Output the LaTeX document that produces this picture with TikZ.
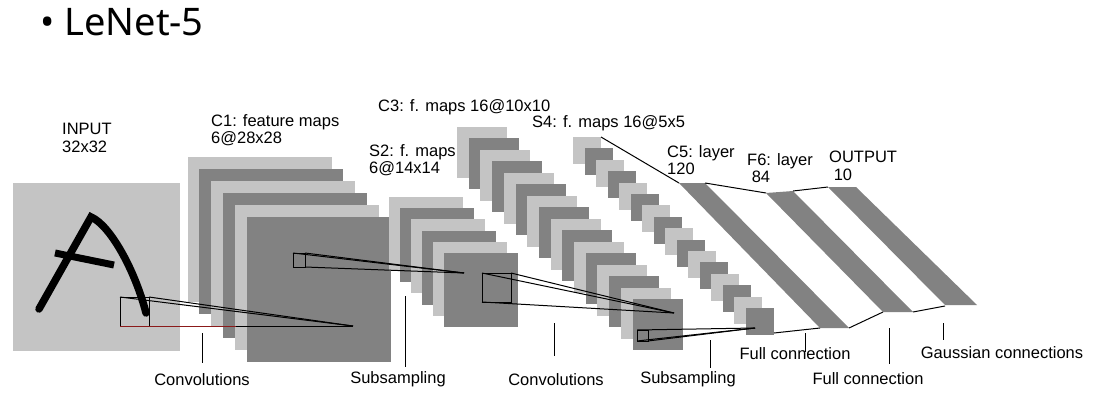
\documentclass[tikz,border=0pt]{standalone}
\usepackage{fontspec}
\setmainfont{Liberation Sans}
\newfontfamily\titlefont{Noto Sans}
\definecolor{lg}{HTML}{C4C4C4}
\definecolor{dg}{HTML}{828282}
\definecolor{dred}{HTML}{8B1A1A}
\begin{document}
\begin{tikzpicture}[x=1pt,y=-1pt,
  lbl/.style={font=\fontsize{16.5}{17.5}\selectfont,inner sep=0pt,align=left},
  tick/.style={line width=0.7pt},
  ray/.style={line width=1pt},
  band/.style={fill=dg,draw=none}]
\useasboundingbox (0,0) rectangle (1116,415);
% title
\node[anchor=base west,inner sep=0pt,font=\titlefont\fontsize{38}{40}\selectfont] (title) at (40,35) {\textbullet\ LeNet-5};
% input
\fill[lg] (12.5,183) rectangle (180,351);
\draw[line width=7.5pt,line cap=round] (39,309) -- (91,217) .. controls (110,225) and (135,270) .. (146,313);
\draw[line width=7pt] (55,253) -- (114,265);
% C1
\foreach \i in {0,...,5}{
  \pgfmathsetmacro\xx{187.5+11.9*\i}\pgfmathsetmacro\yy{157+12*\i}
  \pgfmathparse{mod(\i,2)==0?1:0}
  \ifnum\pgfmathresult=1 \def\cc{lg}\else\def\cc{dg}\fi
  \fill[\cc] (\xx,\yy) rectangle ++(144,145);}
% input receptive field
\draw[ray] (120,297) rectangle (149,326);
\draw[ray] (120,297) -- (353,326);
\draw[ray] (149,297) -- (353,326);
\draw[ray] (236,326) -- (353,326);
\draw[ray,dred] (120,326) -- (236,326);
% S2
\foreach \i in {0,...,5}{
  \pgfmathsetmacro\xx{389+11*\i}\pgfmathsetmacro\yy{197+11.2*\i}
  \pgfmathparse{mod(\i,2)==0?1:0}
  \ifnum\pgfmathresult=1 \def\cc{lg}\else\def\cc{dg}\fi
  \fill[\cc] (\xx,\yy) rectangle ++(74,74);}
% C1 receptive
\draw[ray] (293,253) rectangle (305,267);
\draw[ray] (293,253) -- (464,273);
\draw[ray] (305,253) -- (464,273);
\draw[ray] (305,267) -- (464,273);
% C3
\foreach \i in {0,...,15}{
  \pgfmathsetmacro\xx{457+11.7*\i}\pgfmathsetmacro\yy{127+11.47*\i}
  \pgfmathparse{mod(\i,2)==0?1:0}
  \ifnum\pgfmathresult=1 \def\cc{lg}\else\def\cc{dg}\fi
  \fill[\cc] (\xx,\yy) rectangle ++(50,51);}
% S2 receptive
\draw[ray] (482,273) rectangle (511,302);
\draw[ray] (482,273) -- (674,313);
\draw[ray] (511,273) -- (674,313);
\draw[ray] (482,302) -- (674,313);
% S4
\foreach \i in {0,...,15}{
  \pgfmathsetmacro\xx{573+11.53*\i}\pgfmathsetmacro\yy{137+11.4*\i}
  \pgfmathparse{mod(\i,2)==0?1:0}
  \ifnum\pgfmathresult=1 \def\cc{lg}\else\def\cc{dg}\fi
  \fill[\cc] (\xx,\yy) rectangle ++(28,27);}
% C3 receptive
\draw[ray] (637,330) rectangle (648,341);
\draw[ray] (637,330) -- (755,328);
\draw[ray] (648,341) -- (755,328);
\draw[ray] (637,341) -- (755,328);
% bands
\fill[band] (679,183) -- (705,183) -- (849,328) -- (820,328) -- cycle;
\fill[band] (766,193) -- (793,191) -- (913,312) -- (883,312) -- cycle;
\fill[band] (828,187) -- (856,187) -- (977,305) -- (945,305) -- cycle;
\draw[ray] (601,137) -- (679,183);
\draw[ray] (774,333) -- (820,328);
\draw[ray] (705,183) -- (766,193);
\draw[ray] (849,328) -- (883,312);
\draw[ray] (793,191) -- (828,187);
\draw[ray] (913,312) -- (945,306);
% labels
\node[lbl,anchor=north west] (lin) at (62,123) {INPUT\\32x32};
\node[lbl,anchor=north west] (lc1) at (211,114) {C1: feature maps\\6@28x28};
\node[lbl,anchor=north west] (ls2) at (369,144) {S2: f. maps\\6@14x14};
\node[lbl,anchor=north west] (lc3) at (378,99) {C3: f. maps 16@10x10};
\node[lbl,anchor=north west] (ls4) at (532,115) {S4: f. maps 16@5x5};
\node[lbl,anchor=north west] (lc5) at (667,145) {C5: layer\\120};
\node[lbl,anchor=north west] (lf6) at (747,153) {F6: layer\\\ 84};
\node[lbl,anchor=north west] (lout) at (829,151) {OUTPUT\\\ 10};
% ticks and operation labels
\draw[tick] (202,333) -- (202,363);
\node[lbl,anchor=base] (o1) at (202,385) {Convolutions};
\draw[tick] (405,296) -- (405,367);
\node[lbl,anchor=base] (o2) at (398,383) {Subsampling};
\draw[tick] (554,323) -- (554,356);
\node[lbl,anchor=base] (o3) at (556,385) {Convolutions};
\draw[tick] (710,340) -- (710,368);
\node[lbl,anchor=base] (o4) at (688,383) {Subsampling};
\draw[tick] (805,333) -- (805,352);
\node[lbl,anchor=base] (o5) at (795,359) {Full connection};
\draw[tick] (889,328) -- (889,364);
\node[lbl,anchor=base] (o6) at (868,384) {Full connection};
\draw[tick] (943,323) -- (943,340);
\node[lbl,anchor=base] (o7) at (1002,358) {Gaussian connections};
\end{tikzpicture}
\end{document}
